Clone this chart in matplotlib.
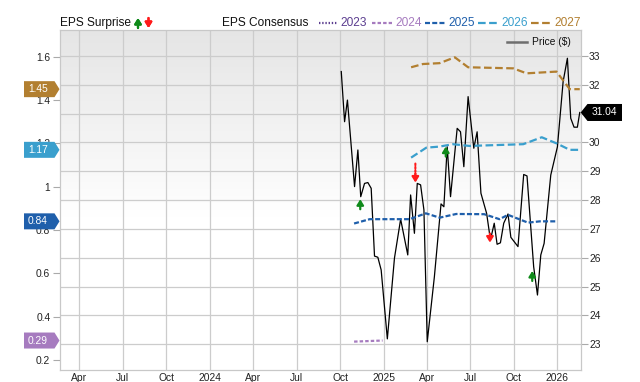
import matplotlib
matplotlib.use('Agg')
import matplotlib.pyplot as plt
import matplotlib.dates as mdates
from matplotlib.patches import Polygon
from matplotlib.lines import Line2D
import numpy as np
import pandas as pd

plt.rcParams['font.family'] = ['Liberation Sans', 'DejaVu Sans']
plt.rcParams['lines.scale_dashes'] = False

# price (right axis)
price_dates = ['2024-10-03', '2024-10-10', '2024-10-16', '2024-10-31', '2024-11-07', '2024-11-13',
               '2024-11-21', '2024-11-28', '2024-12-05', '2024-12-12', '2024-12-19', '2024-12-26',
               '2025-01-08', '2025-01-23', '2025-02-05', '2025-02-20', '2025-02-26', '2025-03-06',
               '2025-03-12', '2025-03-19', '2025-03-26', '2025-04-02', '2025-04-17', '2025-05-01',
               '2025-05-07', '2025-05-14', '2025-05-21', '2025-06-04', '2025-06-11', '2025-06-18',
               '2025-06-27', '2025-07-09', '2025-07-16', '2025-07-24', '2025-08-05', '2025-08-13',
               '2025-08-21', '2025-08-27', '2025-09-03', '2025-09-10', '2025-09-19', '2025-09-25',
               '2025-10-10', '2025-10-22', '2025-10-29', '2025-11-12', '2025-11-20', '2025-11-27',
               '2025-12-04', '2025-12-18', '2026-01-01', '2026-01-13', '2026-01-22', '2026-01-29',
               '2026-02-05', '2026-02-12', '2026-02-17']
price_vals = [32.46, 30.72, 31.47, 28.47, 29.74, 28.12, 28.58, 28.61, 28.41, 26.06, 26.02, 25.58,
              23.19, 25.99, 27.34, 26.10, 28.18, 26.85, 28.58, 28.53, 27.66, 23.09, 25.34, 27.87,
              27.77, 29.85, 28.12, 30.49, 30.37, 29.16, 31.59, 29.80, 30.37, 28.24, 27.54, 26.62,
              27.20, 26.47, 26.52, 27.20, 27.52, 26.71, 26.39, 28.89, 28.84, 25.69, 24.71, 26.10,
              26.50, 28.87, 29.85, 32.11, 32.92, 30.84, 30.53, 30.53, 31.04]

# EPS consensus (left axis)
c2024_dates = ['2024-10-30', '2024-12-29']
c2024_vals = [0.285, 0.29]
c2025_dates = ['2024-10-30', '2024-12-02', '2025-02-24', '2025-03-30', '2025-04-28', '2025-06-02',
               '2025-07-31', '2025-09-01', '2025-09-19', '2025-10-31', '2025-11-25', '2025-12-30']
c2025_vals = [0.83, 0.85, 0.85, 0.877, 0.857, 0.874, 0.873, 0.85, 0.87, 0.834, 0.84, 0.84]
c2026_dates = ['2025-02-27', '2025-03-31', '2025-04-28', '2025-05-26', '2025-06-30', '2025-10-21',
               '2025-11-29', '2025-12-30', '2026-01-27', '2026-02-17']
c2026_vals = [1.134, 1.18, 1.185, 1.196, 1.188, 1.196, 1.228, 1.20, 1.17, 1.17]
c2027_dates = ['2025-02-27', '2025-03-24', '2025-04-28', '2025-05-30', '2025-06-27', '2025-09-30',
               '2025-10-28', '2025-12-30', '2026-01-27', '2026-02-17']
c2027_vals = [1.551, 1.566, 1.57, 1.597, 1.551, 1.546, 1.523, 1.531, 1.45, 1.45]

# EPS surprise arrows (tip position on EPS axis)
up_dates = ['2024-11-12', '2025-05-11', '2025-11-09']
up_vals = [0.942, 1.185, 0.611]
down_dates = ['2025-03-08', '2025-08-12']
down_vals = [1.019, 0.742]
down_big = [True, False]

eps_ticks = [0.2, 0.4, 0.6, 0.8, 1.0, 1.2, 1.4, 1.6]
eps_ticklabels = ['0.2', '0.4', '0.6', '0.8', '1', '1.2', '1.4', '1.6']
price_ticks = list(range(23, 34))

C2023 = '#5b3d8f'
C2024 = '#a67bbf'
C2025 = '#1f5fab'
C2026 = '#3a9fcd'
C2027 = '#b27f30'
GREEN = '#0f8a1a'
RED = '#ff1a1a'

W, H = 640, 382
fig = plt.figure(figsize=(W / 100, H / 100), dpi=100)
rect = [60 / W, 12 / H, 520.7 / W, 340 / H]

# gradient background
bg = fig.add_axes(rect, zorder=-1)
grad = np.concatenate([np.linspace(0.895, 1.0, 58), np.ones(42)])[:, None]
bg.imshow(grad, cmap='gray', vmin=0, vmax=1, aspect='auto', extent=[0, 1, 0, 1])
bg.axis('off')

ax = fig.add_axes(rect)
ax.set_facecolor('none')
ax_eps = ax.twinx()
ax.yaxis.tick_right()
ax_eps.yaxis.tick_left()

ax.plot(pd.to_datetime(price_dates), price_vals, color='black', lw=0.9, zorder=3)

ax_eps.plot(pd.to_datetime(c2024_dates), c2024_vals, color=C2024, lw=1.6, dashes=(2.5, 1.5))
ax_eps.plot(pd.to_datetime(c2025_dates), c2025_vals, color=C2025, lw=1.6, dashes=(3.6, 1.6))
ax_eps.plot(pd.to_datetime(c2026_dates), c2026_vals, color=C2026, lw=1.6, dashes=(5.5, 2.5))
ax_eps.plot(pd.to_datetime(c2027_dates), c2027_vals, color=C2027, lw=1.6, dashes=(5.5, 2.5))

x0, x1 = pd.Timestamp('2023-02-19'), pd.Timestamp('2026-02-19')
ax.set_xlim(x0, x1)
ax.set_ylim(22.11, 33.90)
ax.set_yticks(price_ticks)
ax_eps.set_ylim(0.154, 1.723)
ax_eps.set_yticks(eps_ticks)
ax_eps.set_yticklabels(eps_ticklabels)

ax.xaxis.set_major_locator(mdates.MonthLocator(bymonth=[1, 4, 7, 10]))
ax.xaxis.set_major_formatter(plt.FuncFormatter(
    lambda v, p: mdates.num2date(v).strftime('%Y') if mdates.num2date(v).month == 1
    else mdates.num2date(v).strftime('%b')))

ax.grid(True, color='#cccccc', lw=0.9)
ax.set_axisbelow(True)
for a in (ax, ax_eps):
    for s in a.spines.values():
        s.set_color('#c8c8c8')
ax.tick_params(axis='x', length=0, pad=2.5, labelsize=7.4, labelcolor='#222222')
ax.tick_params(axis='y', length=5, color='#aaaaaa', pad=1, labelsize=7.4, labelcolor='#222222')
ax_eps.tick_params(axis='y', length=5, color='#aaaaaa', pad=2, labelsize=7.4, labelcolor='#222222')

# surprise arrows
hs = '-|>,head_length=0.32,head_width=0.2'
aw = 1.6
for d, v in zip(up_dates, up_vals):
    ax_eps.annotate('', xy=(pd.Timestamp(d), v), xytext=(0, -10), textcoords='offset pixels',
                    arrowprops=dict(arrowstyle=hs, color=GREEN, lw=aw, shrinkA=0, shrinkB=0))
for d, v, big in zip(down_dates, down_vals, down_big):
    if big:
        ax_eps.annotate('', xy=(pd.Timestamp(d), v), xytext=(0, 19), textcoords='offset pixels',
                        arrowprops=dict(arrowstyle='-', color=RED, lw=1.5, ls=(0, (1.2, 1.2)),
                                        shrinkA=0, shrinkB=6))
    ax_eps.annotate('', xy=(pd.Timestamp(d), v), xytext=(0, 9), textcoords='offset pixels',
                    arrowprops=dict(arrowstyle=hs, color=RED, lw=aw, shrinkA=0, shrinkB=0))


def fx(x):
    return x / W


def fy(y):
    return 1 - y / H


# left badges with last consensus values
xnum = mdates.date2num(x0)
for vals, col in [(c2027_vals, C2027), (c2026_vals, C2026), (c2025_vals, C2025), (c2024_vals, C2024)]:
    yc = ax_eps.transData.transform((xnum, vals[-1]))[1]
    pts = [(24, yc - 8), (54.5, yc - 8), (59.5, yc), (54.5, yc + 8), (24, yc + 8)]
    fig.add_artist(Polygon([(px / W, py / H) for px, py in pts], closed=True,
                           transform=fig.transFigure, facecolor=col, edgecolor='none', zorder=5))
    fig.text(38 / W, yc / H, f'{vals[-1]:.2f}', color='white', ha='center', va='center',
             fontsize=7.4, zorder=6)

# right price badge
yc = ax.transData.transform((xnum, price_vals[-1]))[1]
pts = [(580.7, yc), (587.5, yc + 8.5), (622, yc + 8.5), (622, yc - 8.5), (587.5, yc - 8.5)]
fig.add_artist(Polygon([(px / W, py / H) for px, py in pts], closed=True,
                       transform=fig.transFigure, facecolor='black', edgecolor='none', zorder=5))
fig.text(604 / W, yc / H, f'{price_vals[-1]:.2f}', color='white', ha='center', va='center',
         fontsize=7.4, zorder=6)

# top legend
ly = 23
fig.text(fx(60), fy(ly), 'EPS Surprise', fontsize=8.6, va='center', ha='left', color='#111111')
fig.add_artist(plt.annotate('', xy=(138, H - 18), xytext=(138, H - 28), xycoords='figure pixels',
                            arrowprops=dict(arrowstyle=hs, color=GREEN, lw=aw, shrinkA=0, shrinkB=0)))
fig.add_artist(plt.annotate('', xy=(148.5, H - 28), xytext=(148.5, H - 18), xycoords='figure pixels',
                            arrowprops=dict(arrowstyle=hs, color=RED, lw=aw, shrinkA=0, shrinkB=0)))
fig.text(fx(221.5), fy(ly), 'EPS Consensus', fontsize=8.6, va='center', ha='left', color='#111111')

legend_items = [('2023', C2023, (1.0, 1.3), 319, 337),
                ('2024', C2024, (2.5, 1.5), 372, 392),
                ('2025', C2025, (3.6, 1.6), 425, 445),
                ('2026', C2026, (5.5, 2.5), 478, 498),
                ('2027', C2027, (5.5, 2.5), 531, 551)]
for label, col, dash, xa, xb in legend_items:
    fig.add_artist(Line2D([fx(xa), fx(xb)], [fy(ly), fy(ly)], transform=fig.transFigure,
                          color=col, lw=1.6, dashes=dash))
    fig.text(fx(xb + 3), fy(ly), label, fontsize=8.6, va='center', ha='left', color=col)

# price legend inside plot
fig.add_artist(Line2D([fx(507), fx(527)], [fy(42), fy(42)], transform=fig.transFigure,
                      color='#6e6e6e', lw=1.8))
fig.text(fx(532), fy(42), 'Price ($)', fontsize=7.4, va='center', ha='left', color='#111111')

fig.savefig('out.png', dpi=100)
